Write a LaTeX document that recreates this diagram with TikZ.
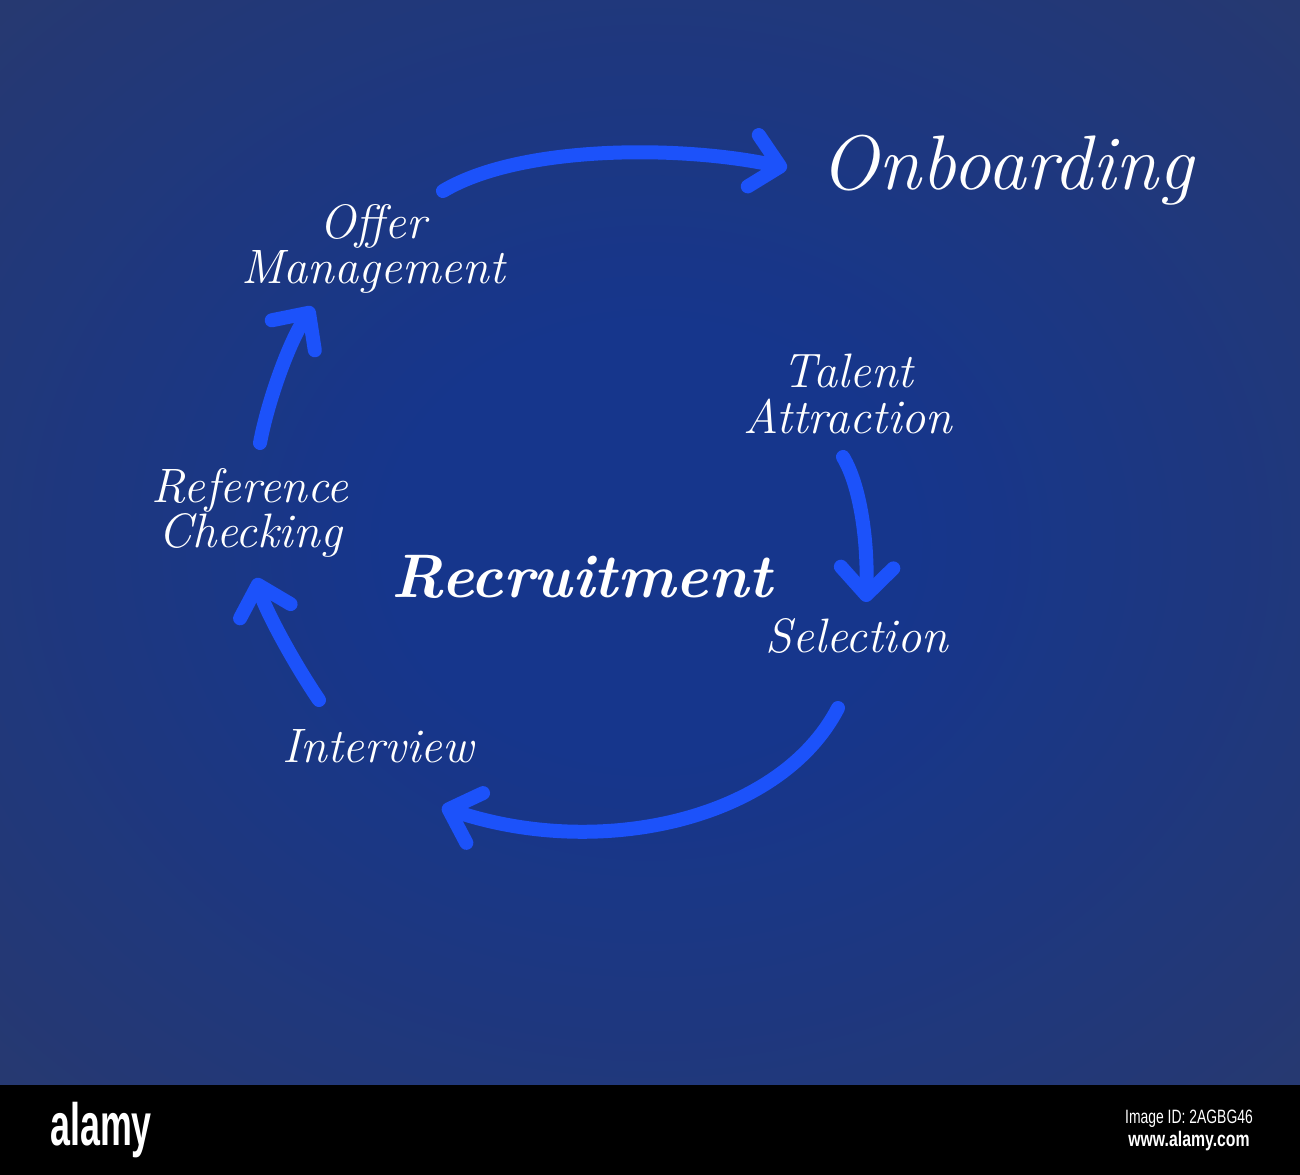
\documentclass[tikz,border=0pt]{standalone}
\usepackage{fontspec}
\newfontfamily\barfont{Liberation Sans}
\usetikzlibrary{arrows.meta}
\definecolor{bgin}{RGB}{22,54,140}
\definecolor{bgout}{RGB}{46,58,100}
\definecolor{arrowblue}{RGB}{28,82,250}
\pgfdeclareradialshading{bgshade}{\pgfpoint{0bp}{0bp}}{color(0bp)=(bgin); color(10bp)=(bgin); color(47bp)=(bgout); color(75bp)=(bgout)}
\begin{document}
\begin{tikzpicture}[x=0.02cm,y=-0.02cm,
  lbl/.style={text=white, font=\fontsize{27.5}{26}\selectfont\itshape, align=center, inner sep=0pt},
  titlelbl/.style={text=white, font=\fontsize{44}{46}\selectfont\itshape, inner sep=0pt},
  flow/.style={draw=arrowblue, line width=0.28cm, line cap=round,
    -{Straight Barb[length=0.55cm,width=1.05cm,round]}},
  bartext/.style={text=white, inner sep=0pt, anchor=base}]
\useasboundingbox (0,0) rectangle (1300,1175);
\shade[shading=bgshade] (0,0) rectangle (1300,1085);
\fill[black] (0,1085) rectangle (1300,1175);

% labels
\node[titlelbl] (onb) at (1007,170) {Onboarding};
\node[titlelbl, font=\fontsize{35}{40}\selectfont\bfseries\itshape] (rec) at (582,577) {Recruitment};
\node[lbl] (offer) at (373,249) {Offer\\Management};
\node[lbl] (talent) at (848,394) {Talent\\Attraction};
\node[lbl] (ref) at (250,513) {Reference\\Checking};
\node[lbl] (sel) at (857,636) {Selection};
\node[lbl] (int) at (378,746) {Interview};

% arrow end points
\coordinate (a1s) at (443,191); \coordinate (a1e) at (787,168);
\coordinate (a2s) at (843,457); \coordinate (a2e) at (866,602);
\coordinate (a3s) at (838,708); \coordinate (a3e) at (442,807);
\coordinate (a4s) at (319,700); \coordinate (a4e) at (256,578);
\coordinate (a5s) at (260,443); \coordinate (a5e) at (313,307);

\draw[flow] (a1s) .. controls (520,145) and (680,145) .. (a1e);
\draw[flow] (a2s) .. controls (860,485) and (868,540) .. (a2e);
\draw[flow] (a3s) .. controls (780,820) and (600,860) .. (a3e);
\draw[flow] (a4s) .. controls (295,665) and (265,610) .. (a4e);
\draw[flow] (a5s) .. controls (268,400) and (290,340) .. (a5e);

% bottom bar
\node[bartext, font=\barfont\bfseries\fontsize{34}{34}\selectfont] (brand) at (101,1145) {\scalebox{0.6}[1]{alamy}};
\node[bartext, font=\barfont\fontsize{11}{11}\selectfont] (imgid) at (1189,1123) {\scalebox{0.72}[1]{Image ID: 2AGBG46}};
\node[bartext, font=\barfont\bfseries\fontsize{12}{12}\selectfont] (url) at (1189,1146) {\scalebox{0.75}[1]{www.alamy.com}};
\end{tikzpicture}
\end{document}
